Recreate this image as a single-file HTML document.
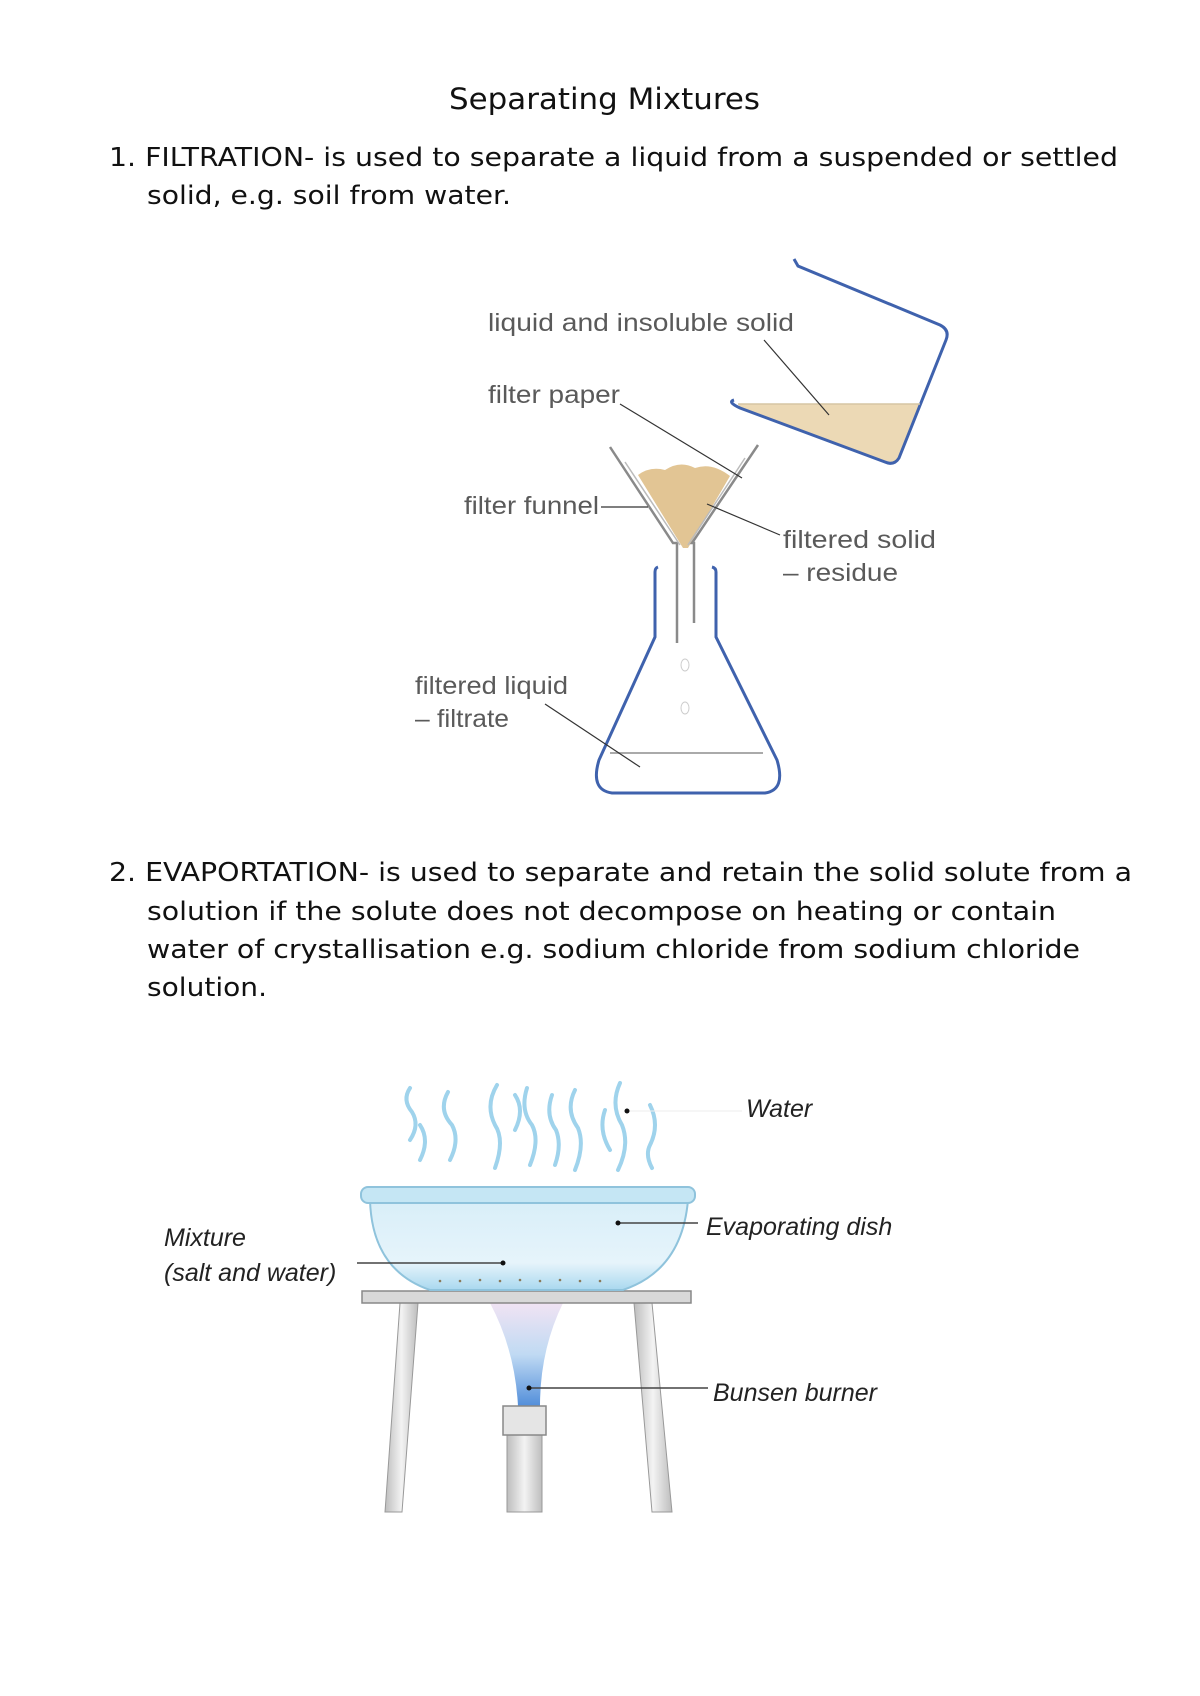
<!DOCTYPE html>
<html><head><meta charset="utf-8"><style>
html,body{margin:0;padding:0;background:#fff;}
svg{display:block;}
.b{font-family:"DejaVu Sans",sans-serif;font-size:26px;fill:#111;}
.l{font-family:"Liberation Sans",sans-serif;font-size:25px;fill:#5a5a5a;}
.i{font-family:"Liberation Sans",sans-serif;font-style:italic;font-size:25px;fill:#222;}
</style></head><body>
<svg width="1200" height="1696" viewBox="0 0 1200 1696" xmlns="http://www.w3.org/2000/svg">
<defs>
<linearGradient id="dish" x1="0" y1="0" x2="0" y2="1">
<stop offset="0" stop-color="#d8eef8"/><stop offset="0.7" stop-color="#e6f4fb"/><stop offset="1" stop-color="#a9d8ef"/></linearGradient>
<linearGradient id="flame" x1="0" y1="0" x2="0" y2="1">
<stop offset="0" stop-color="#efe0f2"/><stop offset="0.5" stop-color="#b9d6f2"/><stop offset="1" stop-color="#3f82d6"/></linearGradient>
<linearGradient id="leg" x1="0" y1="0" x2="1" y2="0">
<stop offset="0" stop-color="#bdbdbd"/><stop offset="0.5" stop-color="#f3f3f3"/><stop offset="1" stop-color="#bdbdbd"/></linearGradient>
</defs>

<text x="449" y="109" font-family="DejaVu Sans, sans-serif" font-size="29" fill="#111" textLength="311" lengthAdjust="spacingAndGlyphs">Separating Mixtures</text>
<text class="b" x="109" y="166" textLength="1009" lengthAdjust="spacingAndGlyphs">1. FILTRATION- is used to separate a liquid from a suspended or settled</text>
<text class="b" x="147" y="204" textLength="364" lengthAdjust="spacingAndGlyphs">solid, e.g. soil from  water.</text>

<!-- beaker -->
<path d="M738 404 L920 404 L899 458 Q894 466 885 462 L740 408 Z" fill="#ecd9b5"/>
<path d="M794 259 L798 266 L940 325 Q950 330 946 340 L899 458 Q894 466 885 462 L740 408 Q727 402 734 400" fill="none" stroke="#3f62ad" stroke-width="3"/>
<line x1="738" y1="404" x2="920" y2="404" stroke="#d6c5a3" stroke-width="1.5"/>

<!-- funnel -->
<path d="M638 475 Q650 466 665 470 Q680 460 695 468 Q712 462 730 476 L688 548 L683 548 Z" fill="#e2c594"/>
<path d="M610 447 L673 543 L677 543 L677 643 M758 445 L692 543 L694 543 L694 623" fill="none" stroke="#8a8a8a" stroke-width="2.5"/>
<path d="M625 462 L680 545 M745 458 L688 545" fill="none" stroke="#bbb" stroke-width="1.5"/>
<!-- flask -->
<path d="M658 567 Q655 568 655 572 L655 637 L599 760 Q590 790 612 793 L765 793 Q786 790 777 760 L716 637 L716 572 Q716 568 712 567" fill="none" stroke="#3f62ad" stroke-width="3"/>
<line x1="610" y1="753" x2="763" y2="753" stroke="#aaa" stroke-width="2"/>
<ellipse cx="685" cy="665" rx="4" ry="6" fill="none" stroke="#ccc"/>
<ellipse cx="685" cy="708" rx="4" ry="6" fill="none" stroke="#ccc"/>

<!-- leaders -->
<g stroke="#333" stroke-width="1.2" fill="none">
<line x1="764" y1="340" x2="829" y2="415"/>
<line x1="620" y1="404" x2="742" y2="478"/>
<line x1="601" y1="507" x2="648" y2="507"/>
<line x1="780" y1="535" x2="707" y2="504"/>
<line x1="545" y1="704" x2="640" y2="767"/>
</g>
<text class="l" x="488" y="331" textLength="306" lengthAdjust="spacingAndGlyphs">liquid and insoluble solid</text>
<text class="l" x="488" y="403" textLength="132" lengthAdjust="spacingAndGlyphs">filter paper</text>
<text class="l" x="464" y="514" textLength="135" lengthAdjust="spacingAndGlyphs">filter funnel</text>
<text class="l" x="783" y="548" textLength="153" lengthAdjust="spacingAndGlyphs">filtered solid</text>
<text class="l" x="783" y="581" textLength="115" lengthAdjust="spacingAndGlyphs">– residue</text>
<text class="l" x="415" y="694" textLength="153" lengthAdjust="spacingAndGlyphs">filtered liquid</text>
<text class="l" x="415" y="727" textLength="94" lengthAdjust="spacingAndGlyphs">– filtrate</text>

<text class="b" x="109" y="881" textLength="1023" lengthAdjust="spacingAndGlyphs">2. EVAPORTATION- is used to separate and retain the solid solute from a</text>
<text class="b" x="147" y="920" textLength="909" lengthAdjust="spacingAndGlyphs">solution if the solute does not decompose on heating or contain</text>
<text class="b" x="147" y="958" textLength="933" lengthAdjust="spacingAndGlyphs">water of crystallisation e.g. sodium chloride from sodium chloride</text>
<text class="b" x="147" y="996" textLength="120" lengthAdjust="spacingAndGlyphs">solution.</text>

<!-- steam -->
<g stroke="#9fd3ec" stroke-width="4" fill="none" stroke-linecap="round">
<path d="M410 1088 Q402 1100 412 1112 Q420 1125 410 1140"/>
<path d="M420 1125 Q430 1140 420 1160"/>
<path d="M448 1092 Q438 1110 452 1125 Q460 1140 450 1160"/>
<path d="M497 1085 Q485 1105 495 1125 Q505 1140 495 1168"/>
<path d="M515 1095 Q525 1110 515 1130"/>
<path d="M527 1088 Q520 1110 532 1125 Q540 1140 530 1165"/>
<path d="M552 1095 Q545 1115 556 1130 Q562 1145 555 1165"/>
<path d="M575 1090 Q565 1110 578 1128 Q585 1145 575 1170"/>
<path d="M620 1083 Q610 1105 622 1125 Q630 1145 618 1170"/>
<path d="M605 1110 Q598 1130 610 1150"/>
<path d="M650 1105 Q660 1125 650 1145 Q645 1155 652 1168"/>
</g>
<line x1="628" y1="1111" x2="742" y2="1111" stroke="#eee" stroke-width="1"/>
<circle cx="627" cy="1111" r="2.5" fill="#111"/>

<!-- flame -->
<path d="M490 1303 L563 1303 Q540 1350 540 1406 L518 1406 Q515 1350 490 1303 Z" fill="url(#flame)" opacity="0.9"/>
<!-- legs -->
<path d="M400 1303 L418 1303 L402 1512 L385 1512 Z" fill="url(#leg)" stroke="#999" stroke-width="1"/>
<path d="M634 1303 L652 1303 L672 1512 L652 1512 Z" fill="url(#leg)" stroke="#999" stroke-width="1"/>
<!-- burner -->
<rect x="507" y="1435" width="35" height="77" fill="url(#leg)" stroke="#999"/>
<rect x="503" y="1406" width="43" height="29" fill="#e5e5e5" stroke="#888" stroke-width="1.5"/>
<!-- plate -->
<rect x="362" y="1291" width="329" height="12" fill="#d8d8d8" stroke="#888" stroke-width="1.5"/>
<!-- dish -->
<path d="M370 1200 Q372 1270 430 1290 L623 1290 Q682 1270 688 1200 Z" fill="url(#dish)" stroke="#8fc3dc" stroke-width="2"/>
<rect x="361" y="1187" width="334" height="16" rx="7" fill="#c5e6f4" stroke="#8fc3dc" stroke-width="2"/>
<g fill="#8a7a5a"><circle cx="440" cy="1281" r="1.3"/><circle cx="460" cy="1281" r="1.3"/><circle cx="480" cy="1280" r="1.3"/><circle cx="500" cy="1281" r="1.3"/><circle cx="520" cy="1280" r="1.3"/><circle cx="540" cy="1281" r="1.3"/><circle cx="560" cy="1280" r="1.3"/><circle cx="580" cy="1281" r="1.3"/><circle cx="600" cy="1281" r="1.3"/></g>

<!-- leaders -->
<g stroke="#444" stroke-width="1.5">
<line x1="618" y1="1223" x2="698" y2="1223"/>
<line x1="357" y1="1263" x2="503" y2="1263"/>
<line x1="529" y1="1388" x2="708" y2="1388"/>
</g>
<circle cx="618" cy="1223" r="2.5" fill="#111"/>
<circle cx="503" cy="1263" r="2.5" fill="#111"/>
<circle cx="529" cy="1388" r="2.5" fill="#111"/>
<text class="i" x="746" y="1117" font-size="26">Water</text>
<text class="i" x="706" y="1235" font-size="26">Evaporating dish</text>
<text class="i" x="164" y="1246" font-size="26">Mixture</text>
<text class="i" x="164" y="1281" font-size="23">(salt and water)</text>
<text class="i" x="713" y="1401" font-size="26">Bunsen burner</text>
</svg>
</body></html>
